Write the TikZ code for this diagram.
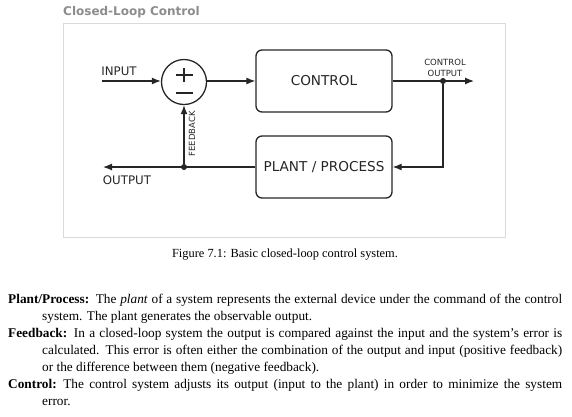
\documentclass[tikz,border=0pt]{standalone}
\usepackage{fontspec}
\setmainfont{Liberation Serif}
\newfontfamily\diagfont{DejaVu Sans}
\usetikzlibrary{arrows.meta}
\definecolor{framegray}{HTML}{DADADA}
\definecolor{titlegray}{HTML}{8C8C8C}
\definecolor{ink}{HTML}{262626}

\begin{document}
\begin{tikzpicture}[x=1pt,y=-1pt,
    block/.style={draw=ink,line width=1.3pt,rounded corners=6pt,minimum width=136pt,minimum height=62pt,
      font=\diagfont\fontsize{13.6}{13.6}\selectfont,text=ink},
    sumnode/.style={draw=ink,line width=1.3pt,circle,minimum size=45pt,inner sep=0pt},
    sign/.style={draw=ink,line width=2pt},
    wire/.style={draw=ink,line width=1.2pt},
    arr/.style={wire,-{Latex[length=9pt,width=7pt]}},
    dot/.style={circle,fill=ink,inner sep=0pt,minimum size=6pt},
    lbl/.style={font=\diagfont\fontsize{11.8}{11.8}\selectfont,text=ink,inner sep=0pt},
    small/.style={font=\diagfont\fontsize{8.5}{11}\selectfont,text=ink,inner sep=0pt,align=center}]
  \useasboundingbox (0,0) rectangle (572,416);
  % title and frame
  \node[anchor=west,inner sep=0pt,text=titlegray,font=\diagfont\bfseries\fontsize{12}{12}\selectfont] (title) at (63,12) {Closed-Loop Control};
  \draw[framegray,line width=1pt] (63,23) rectangle (505,237);

  % blocks
  \node[sumnode] (sum) at (184,82) {};
  \draw[sign] ([shift={(-8.5,-7)}]sum.center) -- ([shift={(8.5,-7)}]sum.center);
  \draw[sign] ([shift={(0,-14)}]sum.center) -- ([shift={(0,0)}]sum.center);
  \draw[sign] ([shift={(-8.5,11)}]sum.center) -- ([shift={(8.5,11)}]sum.center);
  \node[block] (ctrl) at (324,81) {CONTROL};
  \node[block] (plant) at (324,167) {PLANT / PROCESS};
  \node[dot] (split) at (443,81) {};
  \node[dot] (tap) at (sum |- plant) {};
  \coordinate (in) at (102,81);
  \coordinate (ctrlend) at (474,81);
  \coordinate (outend) at (103,167);

  % labels
  \node[lbl] (inlbl) at (119,71) {INPUT};
  \node[lbl] (outlbl) at (127,180) {OUTPUT};
  \node[small] (coutlbl) at (445,67.5) {CONTROL\\OUTPUT};
  \node[small,rotate=90] (fblbl) at (192,134) {FEEDBACK};

  % connectors
  \draw[arr] (in) -- (in -| sum.west);
  \draw[arr] (ctrl.west -| sum.east) -- (ctrl);
  \draw[arr] (ctrl) -- (ctrlend);
  \draw[arr] (split) |- (plant);
  \draw[arr] (plant) -- (outend);
  \draw[arr] (tap) -- (sum);

  % caption and definitions
  \node[font=\fontsize{12.4}{14}\selectfont] (caption) at (285,255) {Figure 7.1: Basic closed-loop control system.};
  \node[anchor=base west,inner sep=0pt,text width=554pt,align=justify,font=\fontsize{13.3}{17}\selectfont] (defs) at (8,303) {%
    \hangindent=34pt\hangafter=1\noindent\textbf{Plant/Process:}\hspace{0.5em}The \textit{plant} of a system represents the external device under the command of the control\linebreak
    system. The plant generates the observable output.\par
    \hangindent=34pt\hangafter=1\noindent\textbf{Feedback:}\hspace{0.5em}In a closed-loop system the output is compared against the input and the system’s error is\linebreak
    calculated. This error is often either the combination of the output and input (positive feedback)\linebreak
    or the difference between them (negative feedback).\par
    \hangindent=34pt\hangafter=1\noindent\textbf{Control:}\hspace{0.5em}The control system adjusts its output (input to the plant) in order to minimize the system\linebreak
    error.\par};
\end{tikzpicture}
\end{document}
